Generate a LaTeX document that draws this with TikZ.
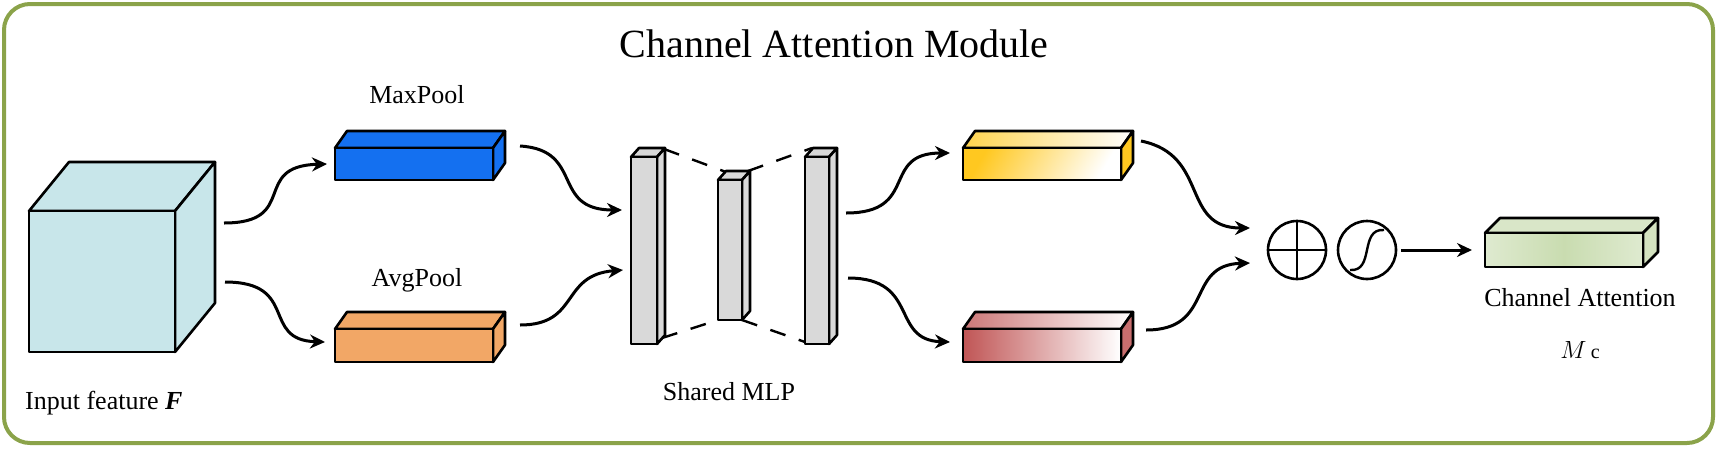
\documentclass[tikz,border=0pt]{standalone}
\usepackage{fontspec}
\setmainfont{Liberation Serif}
\usetikzlibrary{arrows.meta}
\definecolor{frameg}{HTML}{8BA34A}
\definecolor{cubec}{HTML}{C8E6EA}
\definecolor{maxc}{HTML}{1470F0}
\definecolor{avgc}{HTML}{F2A766}
\definecolor{mlpc}{HTML}{D9D9D9}
\definecolor{yelc}{HTML}{FFC820}
\definecolor{redc}{HTML}{C05555}
\definecolor{grnc}{HTML}{C9DCB0}
% #1 x, #2 y (front top-left), #3 w, #4 h, #5 dx, #6 dy, #7 front fill opts, #8 top opts, #9 side opts
\newcommand{\mycuboid}[9]{%
  \path[draw=black,line width=2.6pt,line join=round,#8] (#1,#2) -- ++(#5,-#6) -- ++(#3,0) -- ++(-#5,#6) -- cycle;
  \path[draw=black,line width=2.6pt,line join=round,#9] (#1+#3,#2) -- ++(#5,-#6) -- ++(0,#4) -- ++(-#5,#6) -- cycle;
  \path[draw=black,line width=2.6pt,line join=round,#7] (#1,#2) rectangle ++(#3,#4);
}
\tikzset{
  conn/.style={line width=3pt,-{Stealth[length=15pt,width=14pt]}},
  lbl/.style={font=\fontsize{26}{30}\selectfont,inner sep=0pt},
  dsh/.style={line width=2.4pt,dash pattern=on 16pt off 14pt},
  opc/.style={draw,line width=2.6pt,circle,minimum size=58pt,inner sep=0pt}
}
\begin{document}
\begin{tikzpicture}[x=1pt,y=-1pt]
\useasboundingbox (0,0) rectangle (1720,448);
\draw[frameg,line width=4pt,rounded corners=26pt] (4,4) rectangle (1713,443);
\node[font=\fontsize{40}{46}\selectfont,inner sep=0pt] (title) at (834,44) {Channel Attention Module};
% cube
\mycuboid{29}{211}{146}{141}{40}{49}{fill=cubec}{fill=cubec}{fill=cubec}
\node[lbl,anchor=west] (inlbl) at (25,403) {Input feature \textbf{\textit{F}}};
% pools
\mycuboid{335}{148}{158}{32}{12}{17}{fill=maxc}{fill=maxc}{fill=maxc}
\mycuboid{335}{329}{158}{33}{12}{17}{fill=avgc}{fill=avgc}{fill=avgc}
\node[lbl] (maxl) at (417,95) {MaxPool};
\node[lbl] (avgl) at (417,280) {AvgPool};
% MLP
\mycuboid{631}{157}{26}{187}{8}{9}{fill=mlpc}{fill=mlpc}{fill=mlpc}
\mycuboid{718}{180}{24}{140}{8}{9}{fill=mlpc}{fill=mlpc}{fill=mlpc}
\mycuboid{805}{157}{24}{187}{8}{9}{fill=mlpc}{fill=mlpc}{fill=mlpc}
\coordinate (b1t) at (664,149); \coordinate (b2tl) at (726,172);
\coordinate (b2tr) at (748,171); \coordinate (b3tl) at (812,148);
\coordinate (b1b) at (662,338); \coordinate (b2bl) at (718,320);
\coordinate (b2br) at (742,320); \coordinate (b3bl) at (805,342);
\draw[dsh] (b1t) -- (b2tl); \draw[dsh] (b2tr) -- (b3tl);
\draw[dsh] (b1b) -- (b2bl); \draw[dsh] (b2br) -- (b3bl);
\node[lbl] (mlpl) at (729,392) {Shared MLP};
% outputs
\mycuboid{963}{148}{158}{32}{12}{17}{left color=yelc,right color=white,shading angle=60}{left color=yelc!80,right color=white}{fill=yelc}
\mycuboid{963}{329}{158}{33}{12}{17}{left color=redc,right color=white}{left color=redc!80,right color=white}{fill=redc!85}
% ops
\node[opc] (plus) at (1297,250) {};
\draw[line width=2.6pt] (plus.north) -- (plus.south) (plus.west) -- (plus.east);
\node[opc] (sig) at (1367,250) {};
\draw[line width=2.4pt] ([shift={(-17,20)}]sig.center) .. controls ([shift={(8,22)}]sig.center) and ([shift={(-8,-22)}]sig.center) .. ([shift={(17,-20)}]sig.center);
% final
\mycuboid{1485}{233}{158}{34}{15}{15}{left color=grnc!60,right color=grnc!60,middle color=grnc}{fill=grnc!70}{fill=grnc!80}
\node[lbl] (cal) at (1580,298) {Channel Attention};
\node[lbl] (mcl) at (1580,350) {$M$\,\fontsize{20}{24}\selectfont c};
% connectors
\coordinate (c1) at (224,223); \coordinate (m1) at (327,164);
\coordinate (c2) at (225,282); \coordinate (a1) at (325,342);
\coordinate (m2) at (520,146); \coordinate (p1) at (622,210);
\coordinate (a2) at (520,325); \coordinate (p2) at (623,270);
\coordinate (o1) at (846,213); \coordinate (y1) at (950,153);
\coordinate (o2) at (848,278); \coordinate (r1) at (950,342);
\coordinate (y2) at (1141,141); \coordinate (q1) at (1250,228);
\coordinate (r2) at (1146,330); \coordinate (q2) at (1250,263);
\draw[conn] (c1) .. controls (300,223) and (250,166) .. (m1);
\draw[conn] (c2) .. controls (300,282) and (260,340) .. (a1);
\draw[conn] (m2) .. controls (585,150) and (550,210) .. (p1);
\draw[conn] (a2) .. controls (580,325) and (560,275) .. (p2);
\draw[conn] (o1) .. controls (920,213) and (880,153) .. (y1);
\draw[conn] (o2) .. controls (920,278) and (890,340) .. (r1);
\draw[conn] (y2) .. controls (1210,155) and (1180,228) .. (q1);
\draw[conn] (r2) .. controls (1215,330) and (1185,265) .. (q2);
\draw[conn] (sig.east) ++(4,0) coordinate (s1) (s1) -- (1472,250) coordinate (g1);
\end{tikzpicture}
\end{document}
